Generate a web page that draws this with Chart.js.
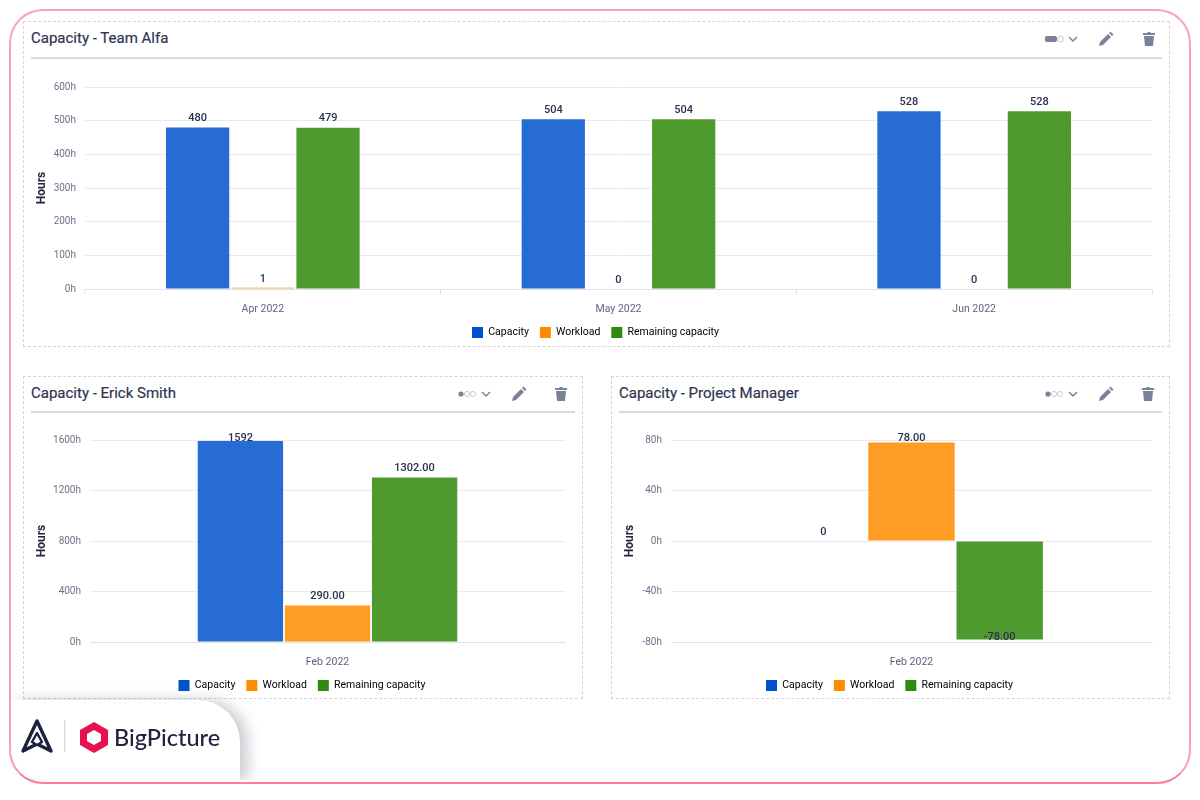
<!DOCTYPE html>
<html>
<head>
<meta charset="utf-8">
<title>Capacity</title>
<script src="https://cdn.jsdelivr.net/npm/chart.js@4"></script>
<style>
  html, body { margin: 0; padding: 0; background: #fff; }
  body { width: 1200px; height: 800px; position: relative; overflow: hidden; font-family: Roboto, sans-serif; }
  .frame { position: absolute; left: 9px; top: 9px; width: 1178px; height: 771px; border: 2px solid; border-color: #ff9db4 #ff9db4 #ff7d96 #ff9db4; border-radius: 34px; }
  .panel { position: absolute; border: 1px dashed #d4d6dc; box-sizing: border-box; }
  .panel canvas { position: absolute; left: 0; top: 0; }
  .head { position: absolute; left: 7px; right: 7px; top: 0; height: 35px; border-bottom: 2px solid #d7d8e0; }
  .head .name { position: absolute; left: 0; top: 7px; font-size: 15px; font-weight: 400; -webkit-text-stroke: 0.2px #2f3550; color: #2f3550; white-space: nowrap; }
  .head svg { position: absolute; top: 9px; }
  .card { position: absolute; left: 11px; top: 700px; width: 229px; height: 80px; background: #fff; border-top-right-radius: 42px; box-shadow: 8px 0 14px rgba(70,75,95,.28); clip-path: inset(-30px -30px 0 0); border-bottom-left-radius: 32px; }
  .brand { position: absolute; left: 114px; top: 723px; font-family: Lato, sans-serif; font-size: 23.5px; font-weight: 500; color: #20243f; }
</style>
</head>
<body>
<div class="frame"></div>

<div class="panel" style="left:23px;top:21px;width:1147px;height:326px">
  <div class="head"><span class="name">Capacity - Team Alfa</span>
    <svg style="left:1013px" width="40" height="16" viewBox="0 0 40 16"><rect x="1" y="5" width="12" height="6" rx="2" fill="#7a8199"/><rect x="14" y="5" width="5" height="6" rx="2" fill="none" stroke="#c9ccd6"/><path d="M25 6l4 4 4-4" fill="none" stroke="#7a8199" stroke-width="1.5"/></svg>
    <svg style="left:1067px" width="16" height="16" viewBox="0 0 16 16"><path d="M1 15l1-4 8-8 3 3-8 8zM11 2l1.5-1.5 3 3L14 5z" fill="#7a8199"/></svg>
    <svg style="left:1110px" width="16" height="16" viewBox="0 0 16 16"><path d="M2 2h4l1-1h2l1 1h4v2H2zM3 5h10l-1 10H4z" fill="#7a8199"/></svg>
  </div>
  <canvas id="alfa" width="1145" height="326"></canvas>
</div>

<div class="panel" style="left:23px;top:376px;width:560px;height:323px">
  <div class="head" style="height:34px"><span class="name">Capacity - Erick Smith</span>
    <svg style="left:426px" width="40" height="16" viewBox="0 0 40 16"><circle cx="4" cy="8" r="2.6" fill="#7a8199"/><circle cx="10" cy="8" r="2.6" fill="none" stroke="#c9ccd6"/><circle cx="16" cy="8" r="2.6" fill="none" stroke="#c9ccd6"/><path d="M25 6l4 4 4-4" fill="none" stroke="#7a8199" stroke-width="1.5"/></svg>
    <svg style="left:480px" width="16" height="16" viewBox="0 0 16 16"><path d="M1 15l1-4 8-8 3 3-8 8zM11 2l1.5-1.5 3 3L14 5z" fill="#7a8199"/></svg>
    <svg style="left:522px" width="16" height="16" viewBox="0 0 16 16"><path d="M2 2h4l1-1h2l1 1h4v2H2zM3 5h10l-1 10H4z" fill="#7a8199"/></svg>
  </div>
  <canvas id="erick" width="558" height="324"></canvas>
</div>

<div class="panel" style="left:611px;top:376px;width:559px;height:323px">
  <div class="head" style="height:34px"><span class="name">Capacity - Project Manager</span>
    <svg style="left:425px" width="40" height="16" viewBox="0 0 40 16"><circle cx="4" cy="8" r="2.6" fill="#7a8199"/><circle cx="10" cy="8" r="2.6" fill="none" stroke="#c9ccd6"/><circle cx="16" cy="8" r="2.6" fill="none" stroke="#c9ccd6"/><path d="M25 6l4 4 4-4" fill="none" stroke="#7a8199" stroke-width="1.5"/></svg>
    <svg style="left:479px" width="16" height="16" viewBox="0 0 16 16"><path d="M1 15l1-4 8-8 3 3-8 8zM11 2l1.5-1.5 3 3L14 5z" fill="#7a8199"/></svg>
    <svg style="left:521px" width="16" height="16" viewBox="0 0 16 16"><path d="M2 2h4l1-1h2l1 1h4v2H2zM3 5h10l-1 10H4z" fill="#7a8199"/></svg>
  </div>
  <canvas id="manager" width="557" height="324"></canvas>
</div>

<div class="card"></div>
<svg style="position:absolute;left:20px;top:718px" width="50" height="38" viewBox="0 0 50 38">
  <path d="M17 3L3 33l14-7 14 7z" fill="none" stroke="#1c2140" stroke-width="3.4" stroke-linejoin="round"/>
  <path d="M17 15l-5 9 5 3 5-3z" fill="#fff" stroke="#1c2140" stroke-width="2.4" stroke-linejoin="round"/>
  <rect x="44" y="2" width="1.5" height="32" fill="#d9dbe2"/>
</svg>
<svg style="position:absolute;left:79px;top:721px" width="30" height="33" viewBox="0 0 30 33">
  <path d="M15 1l14 8v15l-14 8-14-8V9z" fill="#e8114f"/>
  <path d="M15 9l7 4v7l-7 4-7-4v-7z" fill="#fff"/>
</svg>
<div class="brand">BigPicture</div>

<script>
// series names + colours
const seriesNames = ['Capacity', 'Workload', 'Remaining capacity'];
const solidColors = ['#0052CC', '#FF8B00', '#2E8B12'];
const barColors = ['#266CD4', '#FF9C26', '#4E9A2E'];

// Team Alfa
const alfaMonths = ['Apr 2022', 'May 2022', 'Jun 2022'];
const alfaCapacity = [480, 504, 528];
const alfaWorkload = [1, 0, 0];
const alfaRemaining = [479, 504, 528];
const alfaText = [['480', '504', '528'], ['1', '0', '0'], ['479', '504', '528']];

// Erick Smith
const erickMonths = ['Feb 2022'];
const erickCapacity = [1592];
const erickWorkload = [290];
const erickRemaining = [1302];
const erickText = [['1592'], ['290.00'], ['1302.00']];

// Project Manager
const managerMonths = ['Feb 2022'];
const managerCapacity = [0];
const managerWorkload = [78];
const managerRemaining = [-78];
const managerText = [['0'], ['78.00'], ['-78.00']];

// prints the value over each bar, kept inside the plot like the original
const valueLabels = {
  id: 'valueLabels',
  afterDatasetsDraw(chart, args, opts) {
    const { ctx, chartArea } = chart;
    ctx.save();
    ctx.font = '500 11px Roboto';
    ctx.textAlign = 'center';
    ctx.textBaseline = 'middle';
    chart.data.datasets.forEach((ds, i) => {
      chart.getDatasetMeta(i).data.forEach((bar, j) => {
        // bars under a pixel tall still need to show up as a hairline
        if (ds.data[j] > 0 && bar.height < 1) {
          ctx.fillStyle = '#f3c48a';
          ctx.fillRect(bar.x - bar.width / 2, bar.base - 1, bar.width, 1);
        }
        let y = bar.y - 9;
        if (ds.data[j] < 0) y = chartArea.bottom - 5;
        if (y < chartArea.top - 2) y = chartArea.top - 2;
        ctx.fillStyle = '#2b3150';
        ctx.fillText(opts.text[i][j], bar.x, y);
      });
    });
    ctx.restore();
  }
};

function makeChart(id, labels, values, text, cfg) {
  return new Chart(document.getElementById(id), {
    type: 'bar',
    plugins: [valueLabels],
    data: {
      labels: labels,
      datasets: seriesNames.map((name, i) => ({
        label: name,
        data: values[i],
        backgroundColor: barColors[i],
        barPercentage: cfg.barPct,
        categoryPercentage: cfg.catPct
      }))
    },
    options: {
      responsive: false,
      animation: false,
      devicePixelRatio: 1,
      layout: { padding: cfg.padding },
      plugins: {
        tooltip: { enabled: false },
        valueLabels: { text: text },
        legend: {
          position: 'bottom',
          labels: {
            boxWidth: 11,
            boxHeight: 11,
            padding: 11,
            color: '#4f5a78',
            font: { family: 'Roboto', size: 10.5 },
            generateLabels: () => seriesNames.map((name, i) => ({
              text: name,
              fillStyle: solidColors[i],
              strokeStyle: solidColors[i],
              lineWidth: 0,
              datasetIndex: i
            }))
          }
        }
      },
      scales: {
        x: {
          afterFit(axis) { axis.height = cfg.xHeight; },
          grid: { drawOnChartArea: false, drawTicks: cfg.xTicks, tickLength: 5, color: '#dfe1e6' },
          border: { color: '#dfe1e6' },
          ticks: { color: '#5c6680', font: { family: 'Roboto', size: 10.5 }, padding: cfg.xPad }
        },
        y: {
          min: cfg.min,
          max: cfg.max,
          afterFit(axis) { axis.width = cfg.yWidth; },
          ticks: {
            stepSize: cfg.step,
            color: '#6b7389',
            font: { family: 'Roboto', size: 10 },
            padding: 9,
            callback: v => v + 'h'
          },
          grid: { color: '#e9eaed', drawTicks: false },
          border: { display: false },
          title: {
            display: true,
            text: 'Hours',
            color: '#20263f',
            font: { family: 'Roboto', size: 12, weight: 'bold' },
            padding: { top: -4, bottom: 0 }
          }
        }
      }
    }
  });
}

makeChart('alfa', alfaMonths, [alfaCapacity, alfaWorkload, alfaRemaining], alfaText, {
  min: 0, max: 600, step: 100, barPct: 0.97, catPct: 0.55,
  yWidth: 46, xHeight: 27, xTicks: true, xPad: 9,
  padding: { top: 65, right: 17, bottom: 0, left: 15 }
});
makeChart('erick', erickMonths, [erickCapacity, erickWorkload, erickRemaining], erickText, {
  min: 0, max: 1600, step: 400, barPct: 0.98, catPct: 0.55,
  yWidth: 51, xHeight: 27, xTicks: false, xPad: 14,
  padding: { top: 63, right: 17, bottom: 0, left: 15 }
});
makeChart('manager', managerMonths, [managerCapacity, managerWorkload, managerRemaining], managerText, {
  min: -80, max: 80, step: 40, barPct: 0.98, catPct: 0.55,
  yWidth: 44, xHeight: 27, xTicks: false, xPad: 14,
  padding: { top: 63, right: 17, bottom: 0, left: 15 }
});
</script>
</body>
</html>
